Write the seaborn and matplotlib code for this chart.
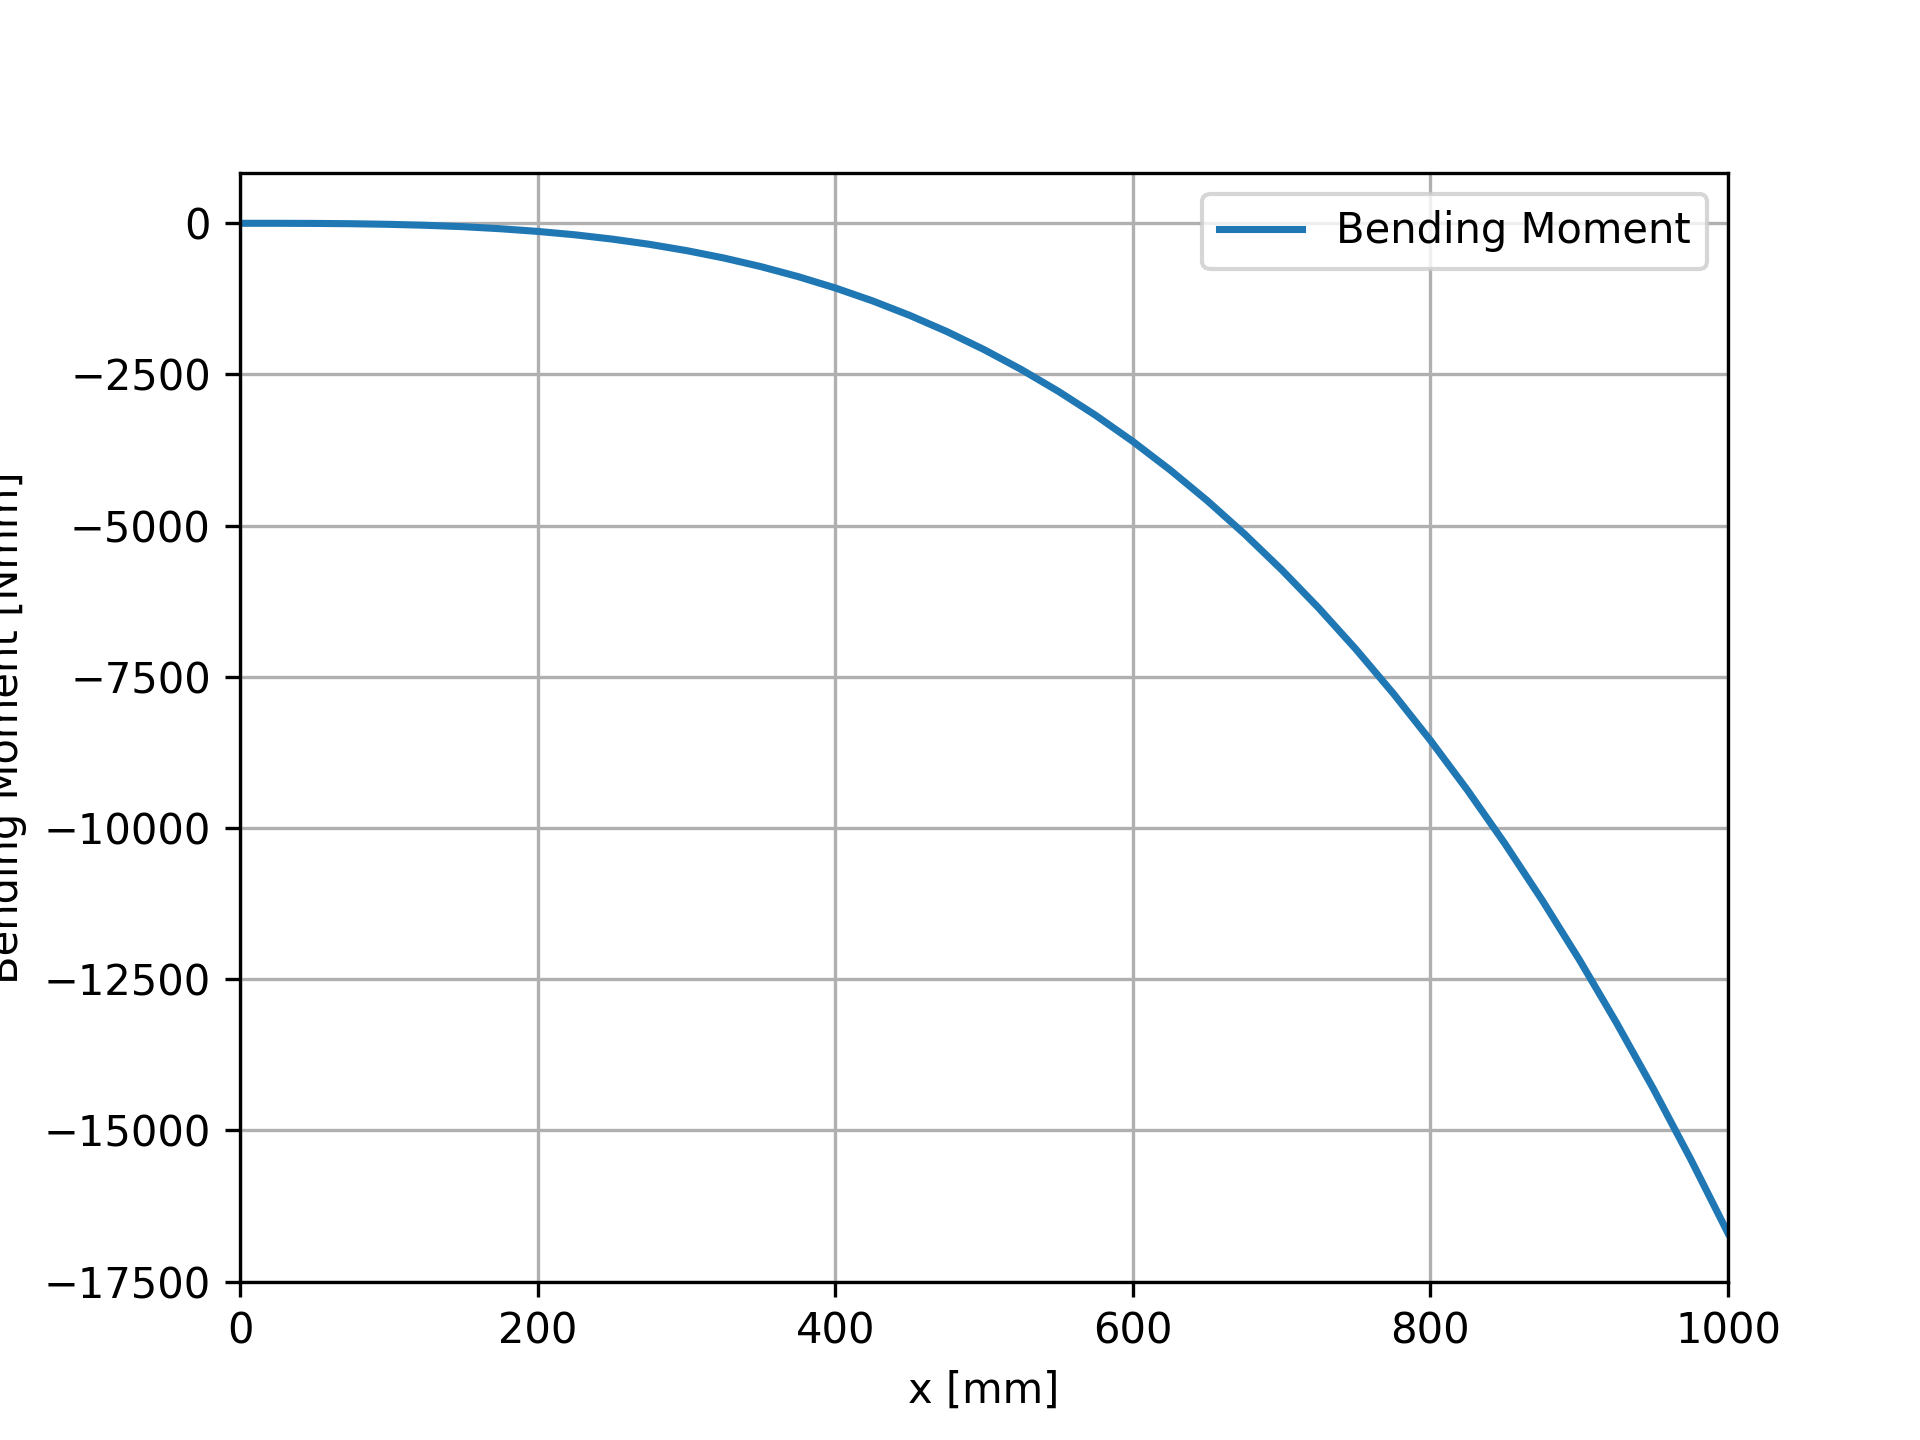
import matplotlib
matplotlib.use("Agg")
import matplotlib.pyplot as plt
import seaborn as sns

# values, every 25 mm
x_mm = [0, 25, 50, 75, 100, 125, 150, 175, 200, 225, 250, 275, 300, 325, 350, 375,
        400, 425, 450, 475, 500, 525, 550, 575, 600, 625, 650, 675, 700, 725,
        750, 775, 800, 825, 850, 875, 900, 925, 950, 975, 1000]
moment = [0, 0, -2, -7, -17, -33, -56, -90, -134, -190, -261, -347, -451, -573,
          -716, -881, -1069, -1282, -1522, -1790, -2088, -2417, -2779, -3175,
          -3607, -4077, -4586, -5136, -5728, -6364, -7045, -7773, -8550, -9377,
          -10256, -11188, -12174, -13218, -14319, -15479, -16700]

fig, ax = plt.subplots(figsize=(6.4, 4.8))
sns.lineplot(x=x_mm, y=moment, ax=ax, color="#1f77b4", linewidth=1.7,
             label="Bending Moment")
ax.set_xlim(0, 1000)
ax.set_ylim(-17500, 835)
ax.set_xlabel("x [mm]")
ax.set_ylabel("Bending Moment [Nmm]")
ax.grid(True)
ax.legend(loc="upper right")
fig.savefig("out.png", dpi=300)
